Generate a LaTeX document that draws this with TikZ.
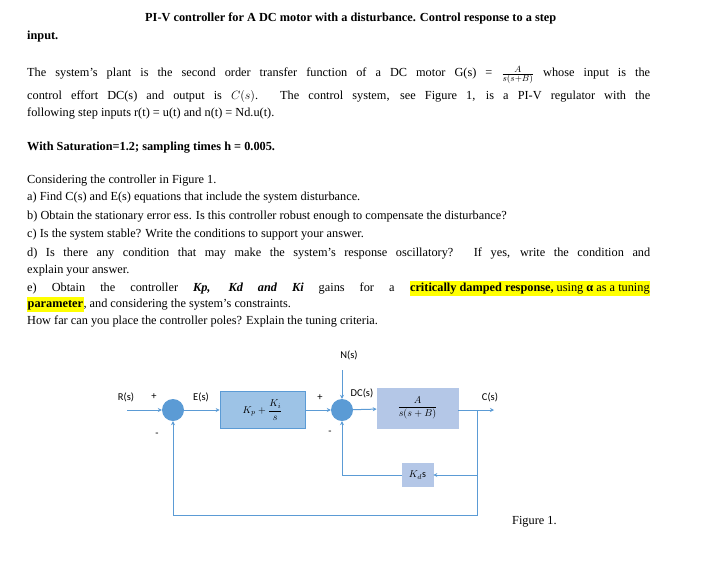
\documentclass[tikz,border=0pt]{standalone}
\usepackage{fontspec}
\setmainfont{Liberation Serif}
\setsansfont{Carlito}
\usetikzlibrary{arrows.meta}
\definecolor{ln}{HTML}{5B9BD5}
\definecolor{bA}{HTML}{9DC3E6}
\definecolor{bB}{HTML}{B4C7E7}
\definecolor{hl}{HTML}{FFFF00}
\newcommand{\fullline}[1]{\makebox[623pt][s]{#1}}
\newcommand{\hlt}[1]{{\setlength{\fboxsep}{0.5pt}\colorbox{hl}{\strut #1}}}
\begin{document}
\begin{tikzpicture}[x=1pt,y=-1pt,
  txt/.style={anchor=base west,inner sep=0pt,font=\fontsize{12.3}{14}\selectfont},
  lbl/.style={inner sep=0pt,font=\sffamily\fontsize{10.5}{12}\selectfont},
  sum/.style={circle,fill=ln,minimum size=22pt,inner sep=0pt},
  blk/.style={draw=ln,line width=0.6pt,minimum height=37pt,inner sep=0pt},
  wire/.style={ln,line width=1pt},
  arr/.style={wire,-{Stealth[length=4pt,width=4pt]}}]
\useasboundingbox (0,0) rectangle (706,568);
% text
\node[txt,font=\bfseries\fontsize{12.3}{14}\selectfont] (t1) at (145,21) {PI-V controller for A DC motor with a disturbance. Control response to a step};
\node[txt,font=\bfseries\fontsize{12.3}{14}\selectfont] (t2) at (27,39) {input.};
\node[txt] (p1) at (27,76) {\fullline{The system's plant is the second order transfer function of a DC motor G(s) = \raisebox{-1pt}{$\frac{A}{s(s+B)}$} whose input is the}};
\node[txt] (p2) at (27,99) {\fullline{control effort DC(s) and output is $C(s)$. The control system, see Figure 1, is a PI-V regulator with the}};
\node[txt] (p3) at (27,116) {following step inputs r(t) = u(t) and n(t) = Nd.u(t).};
\node[txt,font=\bfseries\fontsize{12.3}{14}\selectfont] (p4) at (27,150) {With Saturation=1.2; sampling times h = 0.005.};
\node[txt] (q1) at (27,183) {Considering the controller in Figure 1.};
\node[txt] (q2) at (27,200) {a) Find C(s) and E(s) equations that include the system disturbance.};
\node[txt] (q3) at (27,219) {b) Obtain the stationary error ess. Is this controller robust enough to compensate the disturbance?};
\node[txt] (q4) at (27,237) {c) Is the system stable? Write the conditions to support your answer.};
\node[txt] (q5) at (27,256) {\fullline{d) Is there any condition that may make the system's response oscillatory? If yes, write the condition and}};
\node[txt] (q6) at (27,273) {explain your answer.};
\node[txt] (q7) at (27,291) {\fullline{e) Obtain the controller \textbf{\textit{Kp, Kd and Ki}} gains for a \hlt{\textbf{critically damped response,} using \textbf{α} as a tuning}}};
\node[txt] (q8) at (27,307) {\hlt{\textbf{parameter}}, and considering the system's constraints.};
\node[txt] (q9) at (27,324) {How far can you place the controller poles? Explain the tuning criteria.};
% diagram
\node[sum] (s1) at (173,410) {};
\node[sum] (s2) at (342,410) {};
\node[blk,fill=bA,minimum width=85pt] (b1) at (262.5,410) {$K_p+\displaystyle\frac{K_i}{s}$};
\node[blk,fill=bB,draw=bB,minimum width=81pt,minimum height=40pt] (b2) at (417.5,408) {$\displaystyle\frac{A}{s(s+B)}$};
\node[blk,fill=bB,draw=bB,minimum width=31pt,minimum height=23pt] (b3) at (417.5,475) {$K_d$\textsf{s}};
\coordinate (rin) at (127,410);
\coordinate (nin) at (342,370);
\coordinate (cout) at (494,410);
\coordinate (br) at (477,410);
\coordinate (bot) at (477,515);
\draw[arr] (rin) -- (s1);
\draw[arr] (s1) -- (b1);
\draw[arr] (b1) -- (s2);
\draw[arr] (nin) -- (s2);
\draw[arr] (s2) -- (b2);
\draw[arr] (b2.east|-br) -- (cout);
\draw[arr] (br) |- (b3);
\draw[arr] (b3) -| (s2);
\draw[arr] (br) -- (bot) -| (s1);
\node[lbl] (lr) at (126,397) {R(s)};
\node[lbl] (lp1) at (154,397) {+};
\node[lbl] (lm1) at (157,435) {-};
\node[lbl] (le) at (201,397) {E(s)};
\node[lbl] (lp2) at (320,398) {+};
\node[lbl] (lm2) at (330,433) {-};
\node[lbl] (ln) at (349,355) {N(s)};
\node[lbl] (ldc) at (362,393) {DC(s)};
\node[lbl] (lc) at (490,397) {C(s)};
\node[txt] (fig) at (512,524) {Figure 1.};
\end{tikzpicture}
\end{document}
